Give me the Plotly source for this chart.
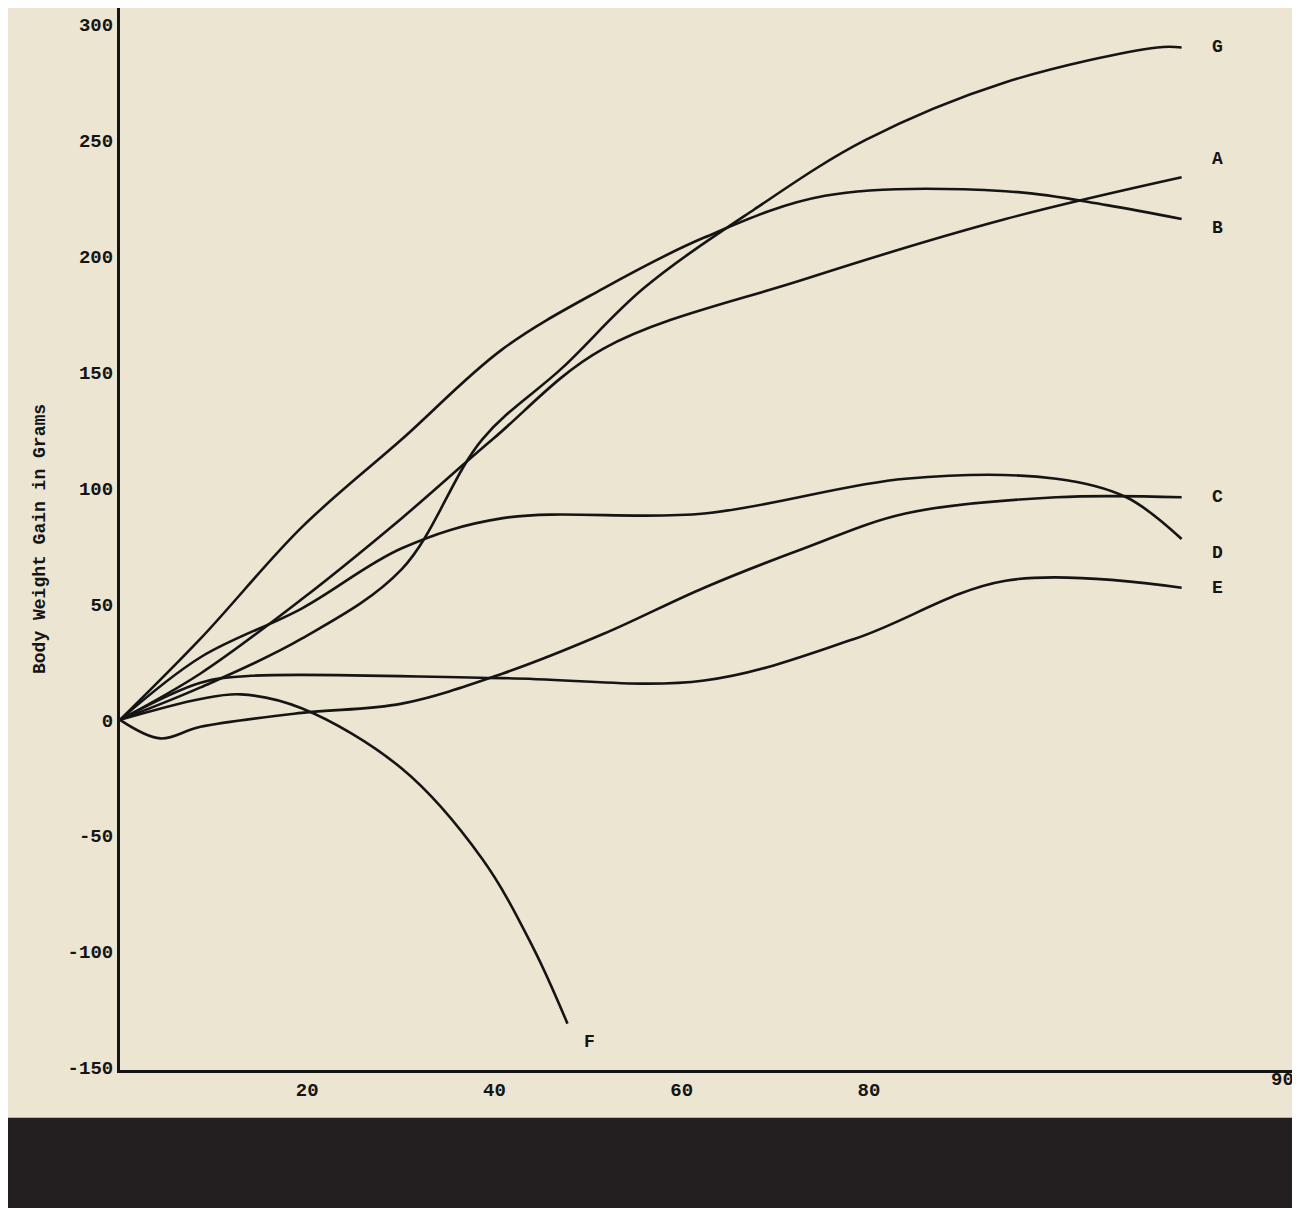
import plotly.graph_objects as go

G_x = [0, 8.6, 19.4, 30.1, 38.7, 47.3, 55.9, 67.7, 79.6, 94.6, 110.8, 113.4]
G_y = [0, 14, 35, 65, 121, 152, 186, 220, 250, 275, 290, 290]
A_x = [0, 8.6, 19.4, 30.1, 39.8, 51.6, 73.1, 94.6, 113.4]
A_y = [0, 20, 52, 87, 121, 160, 190, 216, 234]
B_x = [0, 8.6, 19.4, 30.1, 40.9, 51.6, 62.4, 75.3, 94.6, 105.4, 113.4]
B_y = [0, 35, 83, 121, 160, 186, 208, 226, 228, 222, 216]
C_x = [0, 4.3, 8.6, 19.4, 30.1, 40.9, 51.6, 62.4, 73.1, 83.9, 100, 113.4]
C_y = [0, -8, -3, 3, 7, 20, 37, 57, 74, 89, 96, 96]
D_x = [0, 8.6, 19.4, 30.1, 40.9, 62.4, 83.9, 100, 107.5, 113.4]
D_y = [0, 27, 48, 74, 87, 89, 104, 104, 96, 78]
E_x = [0, 8.6, 14, 40.9, 62.4, 78.5, 94.6, 113.4]
E_y = [0, 16, 19, 18, 17, 35, 60, 57]
F_x = [0, 8.6, 12.9, 19.4, 30.1, 38.7, 44.1, 47.8]
F_y = [0, 9, 11, 5, -21, -60, -98, -131]

series = [("G", G_x, G_y, 290), ("A", A_x, A_y, 242), ("B", B_x, B_y, 212),
          ("C", C_x, C_y, 96), ("D", D_x, D_y, 72), ("E", E_x, E_y, 57), ("F", F_x, F_y, -139)]

fig = go.Figure()
for name, xs, ys, ly in series:
    fig.add_trace(go.Scatter(x=xs, y=ys, mode="lines", line=dict(color="#151515", width=2.6, shape="spline", smoothing=1.0),
                             showlegend=False))
    lx = xs[-1] + (1.0 if name != "F" else -0.5)
    fig.add_annotation(x=lx + 2, y=ly, text="<b>" + name + "</b>", showarrow=False, xanchor="left",
                       font=dict(family="Liberation Mono", size=18, color="#151515"))

fig.add_shape(type="rect", xref="paper", yref="paper", x0=-0.2, x1=1.1, y0=-0.2, y1=-0.045,
              fillcolor="#231f20", line=dict(width=0), layer="above")

fig.update_layout(
    width=1300, height=1208, margin=dict(l=112, r=0, t=0, b=146),
    paper_bgcolor="#ece5d2", plot_bgcolor="#ece5d2",
    font=dict(family="Liberation Mono", size=19, color="#151515"),
    xaxis=dict(range=[0, 126.9], tickvals=[20, 40, 60, 80], ticktext=["<b>20</b>", "<b>40</b>", "<b>60</b>", "<b>80</b>"],
               showgrid=False, zeroline=False,
               showline=True, linecolor="#151515", linewidth=3, ticks=""),
    yaxis=dict(range=[-151, 307], tickvals=[-150, -100, -50, 0, 50, 100, 150, 200, 250, 300],
               ticktext=["<b>%s</b>" % t for t in ["-150", "-100", "-50", "0", "50", "100", "150", "200", "250", "300"]],
               showgrid=False, zeroline=False, showline=True, linecolor="#151515", linewidth=3,
               ticks="", title=dict(text="<b>Body Weight Gain in Grams</b>", standoff=18, font=dict(size=18))),
)
fig.add_annotation(xref="paper", yref="paper", x=0.99, y=-0.022, text="<b>90</b>", showarrow=False,
                   xanchor="right", font=dict(size=19))
fig.write_html("out.html")
